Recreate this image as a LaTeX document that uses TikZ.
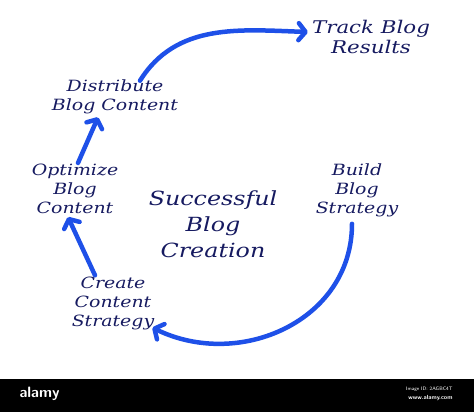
\documentclass[tikz,border=0pt]{standalone}
\usepackage{fontspec}
\usepackage{xcolor}
\usepackage{tikz}
\usetikzlibrary{arrows.meta}

\newfontfamily\handfont{DejaVu Serif}[FakeStretch=1.22]
\definecolor{inkblue}{RGB}{22,26,96}
\definecolor{penblue}{RGB}{30,80,232}

\tikzset{
	stage/.style={align=center, text=inkblue, inner sep=1pt,
		font=\handfont\itshape\fontsize{15.5}{19}\selectfont},
	goal/.style={stage, font=\handfont\itshape\fontsize{17.5}{20}\selectfont},
	hub/.style={stage, font=\handfont\itshape\fontsize{19.5}{26}\selectfont},
	flow/.style={draw=penblue, line width=4.5pt, line cap=round,
		-{Straight Barb[length=7pt,width=17pt,round]}}
}

\begin{document}
\begin{tikzpicture}[x=1pt,y=1pt]
		\useasboundingbox (0,0) rectangle (474,412);

		\node[hub] (hub) at (213,188) {Successful\\Blog\\Creation};
		\node[goal] (track) at (371,375) {Track Blog\\Results};
		\node[stage] (distribute) at (115,315) {Distribute\\Blog Content};
		\node[stage] (optimize) at (75,223) {Optimize\\Blog\\Content};
		\node[stage] (build) at (357,222) {Build\\Blog\\Strategy};
		\node[stage] (create) at (113,109) {Create\\Content\\Strategy};

		\draw [flow] ([xshift=25pt,yshift=-2pt]distribute.north) to[out=58, in=178] ([xshift=-3pt,yshift=5pt]track.west);
		\draw [flow] ([xshift=3pt]optimize.north) -- ([xshift=-17pt,yshift=-2pt]distribute.south);
		\draw [flow] ([xshift=-18pt]create.north) -- ([xshift=-7pt,yshift=-2pt]optimize.south);
		\draw [flow] ([xshift=-5pt,yshift=-6pt]build.south) to[out=-90, in=-26, looseness=1.1] ([xshift=-3pt,yshift=3pt]create.south east);

		% stock bar
		\fill[black] (0,0) rectangle (474,33);
		\node[text=white, font=\sffamily\bfseries\fontsize{15}{15}\selectfont, anchor=west] (brand) at (16,18) {alamy};
		\node[text=white, font=\sffamily\fontsize{5}{6}\selectfont, anchor=east] (imgid) at (456,23) {Image ID: 2AGBC4T};
		\node[text=white, font=\sffamily\bfseries\fontsize{6}{7}\selectfont, anchor=east] (site) at (456,14) {www.alamy.com};
\end{tikzpicture}
\end{document}
